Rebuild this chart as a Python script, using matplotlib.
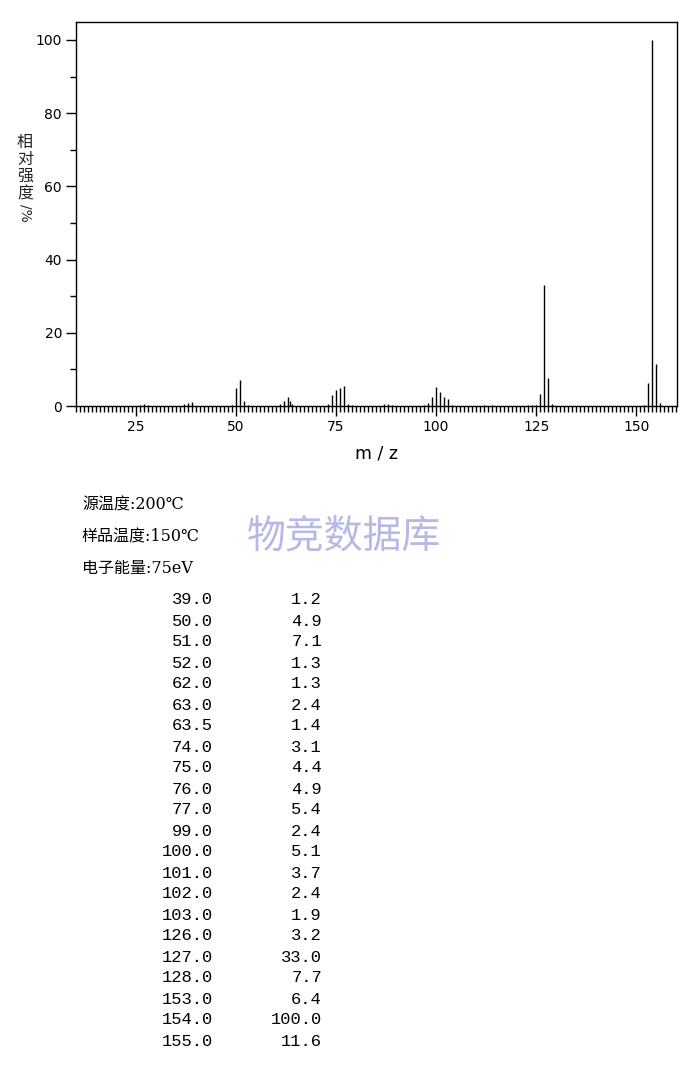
import matplotlib.pyplot as plt
from matplotlib.ticker import MultipleLocator

plt.rcParams['font.family'] = ['DejaVu Sans', 'Noto Sans CJK SC']

# peaks listed in the table
mz = [39.0, 50.0, 51.0, 52.0, 62.0, 63.0, 63.5, 74.0, 75.0, 76.0, 77.0,
      99.0, 100.0, 101.0, 102.0, 103.0, 126.0, 127.0, 128.0, 153.0, 154.0, 155.0]
intensity = [1.2, 4.9, 7.1, 1.3, 1.3, 2.4, 1.4, 3.1, 4.4, 4.9, 5.4,
             2.4, 5.1, 3.7, 2.4, 1.9, 3.2, 33.0, 7.7, 6.4, 100.0, 11.6]

# small peaks only visible in the spectrum (estimated)
small_mz = [26, 27, 28, 37, 38, 49, 53, 61, 64, 73, 78, 79,
            87, 88, 89, 97, 98, 104, 112, 114, 123, 124, 125, 129, 152, 156]
small_int = [0.3, 0.5, 0.4, 0.5, 0.8, 0.4, 0.3, 0.6, 0.6, 0.5, 0.5, 0.3,
             0.5, 0.5, 0.3, 0.4, 0.7, 0.3, 0.3, 0.3, 0.3, 0.3, 0.4, 0.6, 0.4, 0.7]

info_lines = ["源温度:200℃", "样品温度:150℃", "电子能量:75eV"]

fig = plt.figure(figsize=(6.87, 10.73), dpi=100)
ax = fig.add_axes([76/687, 1-406/1073, 601/687, 384/1073])

all_mz = mz + small_mz
all_int = intensity + small_int
ax.vlines(all_mz, 0, all_int, color='black', linewidth=1.0)

ax.set_xlim(10, 160.2)
ax.set_ylim(0, 104.9)
ax.xaxis.set_major_locator(MultipleLocator(25))
ax.xaxis.set_minor_locator(MultipleLocator(1))
ax.yaxis.set_major_locator(MultipleLocator(20))
ax.yaxis.set_minor_locator(MultipleLocator(10))
ax.tick_params(which='major', direction='out', length=7, width=1, labelsize=10, pad=3)
ax.tick_params(which='minor', direction='out', length=4, width=1)
for s in ax.spines.values():
    s.set_linewidth(1)

ax.set_xlabel("m / z", fontsize=12.5, labelpad=8)

fig.text(25/687, 1-168/1073, "相\n对\n强\n度", family=['Noto Sans CJK SC'],
         fontsize=11.5, ha='center', va='center', linespacing=1.0, color='#222222')
fig.text(25/687, 1-213/1073, "/%", fontsize=10, rotation=-90,
         ha='center', va='center', color='#222222')

for i, line in enumerate(info_lines):
    fig.text(82/687, 1-(505 + i*31.5)/1073, line,
             family=['DejaVu Serif', 'Noto Sans CJK SC'],
             fontsize=11.5, ha='left', va='center')

fig.text(344/687, 1-537/1073, "物竞数据库", family=['Noto Sans CJK SC'],
         fontsize=28, color='#b8b8e8', ha='center', va='center')

for i, (m, v) in enumerate(zip(mz, intensity)):
    y = 1 - (600 + i*21)/1073
    fig.text(213/687, y, f"{m:.1f}", family=['Liberation Mono'], fontsize=12.3,
             ha='right', va='center')
    fig.text(322/687, y, f"{v:.1f}", family=['Liberation Mono'], fontsize=12.3,
             ha='right', va='center')

fig.savefig("out.png", dpi=100)
